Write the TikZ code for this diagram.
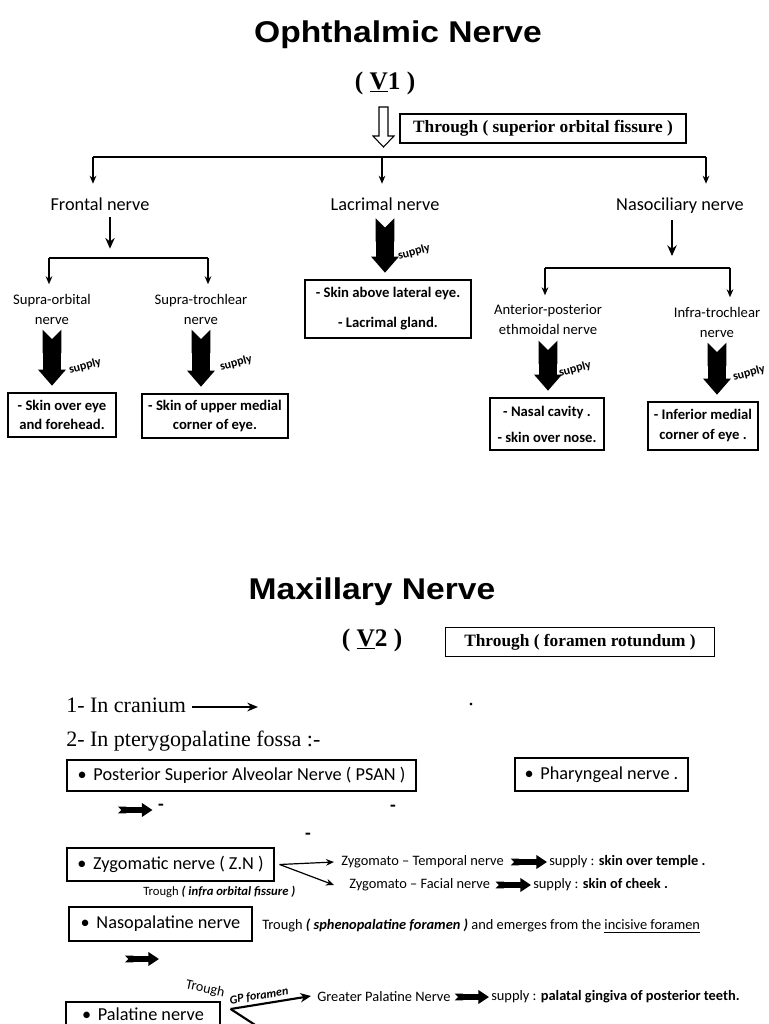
\documentclass[tikz,border=0pt]{standalone}
\usepackage{fontspec}
\setmainfont{Liberation Serif}
\newfontfamily\sansf{Carlito}
\newfontfamily\headf[FakeStretch=1.12]{Liberation Sans}
\usetikzlibrary{arrows.meta,calc}
\newdimen\pxu \pxu=0.75pt
\tikzset{
  bar/.style={line width=1.3pt},
  conn/.style={line width=1.2pt,-{Stealth[length=6pt,width=5pt]}},
  conn2/.style={line width=0.9pt,-{Stealth[length=6pt,width=5pt]}},
  tconn/.style={line width=1.8pt,-{Stealth[length=8pt,width=7pt]}},
  vblk/.style={line width=14pt,{Triangle Cap[reversed]}-{Triangle[width=20pt,length=12pt]},shorten <=4pt,shorten >=5pt},
  hblk/.style={line width=5pt,{Triangle Cap[reversed]}-{Triangle[width=10pt,length=8pt]}},
  box/.style={draw,line width=0.9pt,inner sep=0pt,align=center},
  head/.style={font=\headf\bfseries\fontsize{22.5}{27}\selectfont},
  vnum/.style={font=\bfseries\fontsize{19}{23}\selectfont},
  thr/.style={box,font=\bfseries\fontsize{13}{16}\selectfont},
  lbl/.style={font=\sansf\fontsize{13.7}{16}\selectfont,inner sep=0pt,anchor=base},
  sub/.style={font=\sansf\fontsize{11}{15}\selectfont,inner sep=0pt,align=center},
  bx/.style={box,font=\sansf\bfseries\fontsize{11}{14}\selectfont},
  sup/.style={font=\sansf\bfseries\fontsize{9}{10}\selectfont,rotate=15,inner sep=0pt},
  ser/.style={font=\fontsize{16.5}{20}\selectfont,inner sep=0pt,anchor=west},
  mbox/.style={box,font=\sansf\fontsize{13.7}{16}\selectfont},
  sm/.style={font=\sansf\fontsize{10.8}{13}\selectfont,inner sep=0pt,anchor=west},
  dsh/.style={font=\sansf\bfseries\fontsize{14}{16}\selectfont,inner sep=0pt},
}
\begin{document}
\begin{tikzpicture}[x=0.75pt,y=-0.75pt]
\useasboundingbox (0,0) rectangle (768,1024);
\fill[white] (0,0) rectangle (768,1024);

% ---------------- Ophthalmic nerve ----------------
\node[head,anchor=base] (t1) at (398,43) {Ophthalmic Nerve};
\node[vnum] (v1) at (385,83) {( \underline{V}1 )};
\draw[line width=0.8pt,fill=white] (379,107) -- (388,107) -- (388,136) -- (394,136)
  -- (383.5,147) -- (373,136) -- (379,136) -- cycle;
\node[thr,minimum width=286\pxu,minimum height=29\pxu] (thr1) at (543,128.5)
  {Through ( superior orbital fissure )};

\coordinate (bL) at (93,157);
\coordinate (bM) at (382,157);
\coordinate (bR) at (706,157);
\draw[bar] (bL) -- (bR);

\node[lbl] (fr) at (100,210) {Frontal nerve};
\node[lbl] (la) at (385,210) {Lacrimal nerve};
\node[lbl] (na) at (680,210) {Nasociliary nerve};
\draw[conn,shorten >=10pt] (bL) -- (bL |- fr.north);
\draw[conn,shorten >=10pt] (bM) -- (bM |- la.north);
\draw[conn,shorten >=10pt] (bR) -- (bR |- na.north);

% Frontal branch
\coordinate (b2M) at (110,258);
\coordinate (b2L) at (49,258);
\coordinate (b2R) at (208,258);
\draw[tconn,shorten <=5pt,shorten >=7pt] (fr.south -| b2M) -- (b2M);
\draw[bar] (b2L) -- (b2R);
\node[sub] (so) at (52,309) {Supra-orbital\\nerve};
\node[sub] (st) at (201,309) {Supra-trochlear\\nerve};
\draw[conn,shorten >=7pt] (b2L) -- (b2L |- so.north);
\draw[conn,shorten >=7pt] (b2R) -- (b2R |- st.north);
\node[bx,minimum width=108\pxu,minimum height=44\pxu] (sobox) at (62,415)
  {- Skin over eye\\and forehead.};
\node[bx,minimum width=146\pxu,minimum height=44\pxu] (stbox) at (215,416)
  {- Skin of upper medial\\corner of eye.};
\draw[vblk] (so.south) -- (so.south |- sobox.north);
\draw[vblk] (st.south) -- (st.south |- stbox.north);
\node[sup] (sp1) at (85,366) {supply};
\node[sup] (sp2) at (236,363) {supply};

% Lacrimal branch
\node[bx,font=\sansf\bfseries\fontsize{11}{22.5}\selectfont,minimum width=166\pxu,minimum height=58\pxu] (labox) at (388,309)
  {- Skin above lateral eye.\\- Lacrimal gland.};
\draw[vblk,shorten <=6pt] (la.south) -- (la.south |- labox.north);
\node[sup] (sp3) at (414,252) {supply};

% Nasociliary branch
\coordinate (b3M) at (672,268);
\coordinate (b3L) at (545,268);
\coordinate (b3R) at (730,268);
\draw[tconn,shorten <=5pt,shorten >=9pt] (na.south -| b3M) -- (b3M);
\draw[bar] (b3L) -- (b3R);
\node[sub] (ap) at (548,320) {Anterior-posterior\\ethmoidal nerve};
\node[sub] (it) at (717,322) {Infra-trochlear\\nerve};
\draw[conn,shorten >=7pt] (b3L) -- (b3L |- ap.north);
\draw[conn,shorten >=7pt] (b3R) -- (b3R |- it.north);
\node[bx,font=\sansf\bfseries\fontsize{11}{19.5}\selectfont,minimum width=114\pxu,minimum height=52\pxu] (apbox) at (547,424)
  {- Nasal cavity .\\- skin over nose.};
\node[bx,font=\sansf\bfseries\fontsize{11}{15}\selectfont,minimum width=110\pxu,minimum height=48\pxu] (itbox) at (703,426)
  {- Inferior medial\\corner of eye .};
\draw[vblk] (ap.south) -- (ap.south |- apbox.north);
\draw[vblk] (it.south) -- (it.south |- itbox.north);
\node[sup] (sp4) at (575,369) {supply};
\node[sup] (sp5) at (749,373) {supply};

% ---------------- Maxillary nerve ----------------
\node[head,anchor=base] (t2) at (372,599) {Maxillary Nerve};
\node[vnum] (v2) at (372,640) {( \underline{V}2 )};
\node[thr,minimum width=269\pxu,minimum height=29\pxu] (thr2) at (580,642)
  {Through ( foramen rotundum )};

\node[ser] (cr) at (66,705) {1- In cranium};
\coordinate (crE) at (258,707);
\draw[line width=1.9pt,-{Stealth[length=8pt,width=6.5pt]},shorten <=4.5pt] (cr.east |- crE) -- (crE);
\node[ser] (dot) at (468,705) {.};
\node[ser] (pt) at (66,741) {2- In pterygopalatine fossa :-};

\node[mbox,minimum width=349\pxu,minimum height=31\pxu] (psan) at (241.5,775.5)
  {•\hspace{5pt}Posterior Superior Alveolar Nerve ( PSAN )};
\node[mbox,minimum width=173\pxu,minimum height=33\pxu] (phar) at (601.5,774.5)
  {•\hspace{5pt}Pharyngeal nerve .};

\coordinate (psA) at (118,810);
\node[dsh] (d1) at (161,807) {-};
\node[dsh] (d2) at (393,808) {-};
\node[dsh] (d3) at (308,836) {-};
\draw[hblk,shorten >=4pt] (psA) -- (d1.west |- psA);

\node[mbox,minimum width=207\pxu,minimum height=33\pxu] (zn) at (170.5,864.5)
  {•\hspace{5pt}Zygomatic nerve ( Z.N )};
\node[sm] (zt) at (341,862) {Zygomato – Temporal nerve};
\node[sm] (zts) at (549,862) {supply : \textbf{skin over temple .}};
\node[sm] (zf) at (349,885) {Zygomato – Facial nerve};
\node[sm] (zfs) at (533,885) {supply : \textbf{skin of cheek .}};
\coordinate (znO) at ($(zn.east)+(5,0)$);
\draw[conn2] (znO) -- ($(zt.west)+(-7,0)$);
\draw[conn2] (znO) -- ($(zf.west)+(-15,0)$);
\draw[hblk,shorten <=5pt,shorten >=1.5pt] (zt.east) -- (zts.west);
\draw[hblk,shorten <=4pt,shorten >=1.5pt] (zf.east) -- (zfs.west);
\node[sm,font=\sansf\fontsize{9.5}{11}\selectfont] (tr1) at (143,892)
  {Trough \textbf{\textit{( infra orbital fissure )}}};

\node[mbox,minimum width=183\pxu,minimum height=34\pxu] (np) at (160.5,924)
  {•\hspace{5pt}Nasopalatine nerve};
\node[sm] (npt) at (262,926)
  {Trough \textbf{\textit{( sphenopalatine foramen )}} and emerges from the \underline{incisive foramen}};
\coordinate (npA) at (125,959);
\coordinate (npB) at (159,959);
\draw[hblk] (npA) -- (npB);

\node[mbox,minimum width=154\pxu,minimum height=24\pxu] (pal) at (143,1014)
  {•\hspace{5pt}Palatine nerve};
\coordinate (palV) at ($(pal.east)+(10,-5)$);
\node[sm] (gpn) at (317,997) {Greater Palatine Nerve};
\node[sm] (gps) at (491,997) {supply : \textbf{palatal gingiva of posterior teeth.}};
\draw[line width=1.6pt,-{Stealth[length=8pt,width=7pt]}] (palV) -- ($(gpn.west)+(-6,-1)$);
\coordinate (palL) at (266,1032);
\draw[line width=1.6pt] (palV) -- (palL);
\draw[hblk,shorten <=3pt,shorten >=1.5pt] (gpn.east) -- (gps.west);
\node[font=\sansf\bfseries\itshape\fontsize{9}{11}\selectfont,rotate=9,inner sep=0pt] (gpf) at (259,996) {GP foramen};
\node[font=\sansf\fontsize{10.5}{12}\selectfont,rotate=-12,inner sep=0pt] (tr2) at (205,989) {Trough};
\end{tikzpicture}
\end{document}
